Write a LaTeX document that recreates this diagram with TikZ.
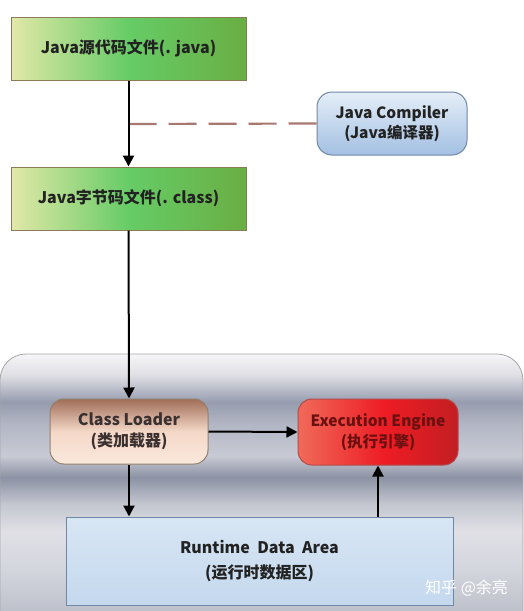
\documentclass[tikz,border=0pt]{standalone}
\usepackage{fontspec}
\setmainfont{Noto Sans CJK SC}
\usetikzlibrary{arrows.meta,shapes.misc}
\definecolor{gL}{HTML}{E2E8A8}
\definecolor{gM}{HTML}{66CC66}
\definecolor{gR}{HTML}{6AAE44}
\definecolor{gB}{HTML}{8A7A58}
\definecolor{dashc}{HTML}{A87870}
\definecolor{cT}{HTML}{E4EEF8}
\definecolor{cB}{HTML}{A4C0E2}
\definecolor{cBd}{HTML}{7088A8}
\definecolor{eL}{HTML}{F06A5A}
\definecolor{eM}{HTML}{EE1C24}
\definecolor{eR}{HTML}{C21E22}
\definecolor{eT}{HTML}{6A1010}
\definecolor{lT}{HTML}{A06E58}
\definecolor{lM}{HTML}{F4D8C8}
\definecolor{lB}{HTML}{FAE8DC}
\definecolor{lTx}{HTML}{3A3030}
\definecolor{rT}{HTML}{D8E6F4}
\definecolor{rB}{HTML}{C4D8EE}
\definecolor{txt}{HTML}{222222}
\pgfdeclarehorizontalshading{greenshade}{100bp}{color(0bp)=(gL); color(25bp)=(gL); color(50bp)=(gM); color(75bp)=(gR); color(100bp)=(gR)}
\pgfdeclarehorizontalshading{redshade}{100bp}{color(0bp)=(eL); color(25bp)=(eL); color(52bp)=(eM); color(75bp)=(eR); color(100bp)=(eR)}
\pgfdeclareverticalshading{loadershade}{100bp}{color(0bp)=(lB); color(25bp)=(lB); color(50bp)=(lM); color(75bp)=(lT); color(100bp)=(lT)}
\pgfdeclareverticalshading{bgshade}{100bp}{%
color(0bp)=(rgb,255:red,184;green,188;blue,198);
color(25bp)=(rgb,255:red,184;green,188;blue,198);
color(35bp)=(rgb,255:red,212;green,214;blue,222);
color(42bp)=(rgb,255:red,224;green,224;blue,230);
color(47bp)=(rgb,255:red,196;green,198;blue,208);
color(52bp)=(rgb,255:red,140;green,146;blue,164);
color(56bp)=(rgb,255:red,200;green,202;blue,212);
color(62bp)=(rgb,255:red,178;green,182;blue,196);
color(66bp)=(rgb,255:red,150;green,156;blue,174);
color(71bp)=(rgb,255:red,222;green,222;blue,228);
color(75bp)=(rgb,255:red,246;green,246;blue,248);
color(100bp)=(rgb,255:red,246;green,246;blue,248)}
\tikzset{
  x=1pt, y=-1pt,
  filebox/.style={draw=gB, line width=1pt, shading=greenshade, minimum width=235pt, minimum height=63pt, font=\bfseries\fontsize{16}{18}\selectfont, text=txt},
  flow/.style={line width=2pt, -{Triangle[width=11pt,length=11pt]}},
}
\begin{document}
\begin{tikzpicture}
\useasboundingbox (0,0) rectangle (523,611);
\fill[white] (0,0) rectangle (523,611);
% background panel
\shade[shading=bgshade, draw=gray!70, line width=0.8pt, rounded corners=26pt] (0,622) -- (0,354) -- (523,354) -- (523,622);
% nodes
\node[filebox] (src) at (128.5,48.5) {Java源代码文件(. java)};
\node[filebox] (cls) at (128.5,198.5) {Java字节码文件(. class)};
\node[draw=cBd, line width=1pt, rounded corners=15pt, top color=cT, bottom color=cB, minimum width=150pt, minimum height=63pt, align=center, font=\bfseries\fontsize{15.5}{20}\selectfont, text=txt, inner sep=1pt] (comp) at (392,123.5) {Java Compiler\\(Java编译器)};
\node[draw=gray!70!brown, line width=1pt, rounded corners=14pt, shading=loadershade, minimum width=158pt, minimum height=65pt, align=center, font=\bfseries\fontsize{16}{21}\selectfont, text=lTx, inner sep=1pt] (cl) at (129,431.5) {Class Loader\\(类加载器)};
\node[draw=gray!60!red, line width=1pt, rounded corners=14pt, shading=redshade, minimum width=160pt, minimum height=66pt, align=center, font=\bfseries\fontsize{15.5}{21}\selectfont, text=eT, inner sep=1pt] (ee) at (378,432) {Execution Engine\\(执行引擎)};
\node[draw=cBd, line width=1pt, top color=rT, bottom color=rB, minimum width=387pt, minimum height=88pt, align=center, font=\bfseries\fontsize{16}{25}\selectfont, text=txt] (rda) at (259.5,561) {Runtime~ Data~ Area\\(运行时数据区)};
\node[text=white, font=\fontsize{16}{18}\selectfont, anchor=west, inner sep=0pt] (wm) at (425,588) {知乎 @余亮};
% connectors
\coordinate (dj) at (128.5,124);
\draw[dashc, line width=2.2pt, dash pattern=on 28pt off 12pt] (dj) -- (comp.west);
\draw[flow] (src.south) -- (cls.north);
\draw[flow] (cls.south) -- (cl.north);
\draw[flow] (cl.east) -- (ee.west);
\draw[flow] (cl.south) -- (cl.south |- rda.north);
\draw[flow] (ee.south |- rda.north) -- (ee.south);
\end{tikzpicture}
\end{document}
